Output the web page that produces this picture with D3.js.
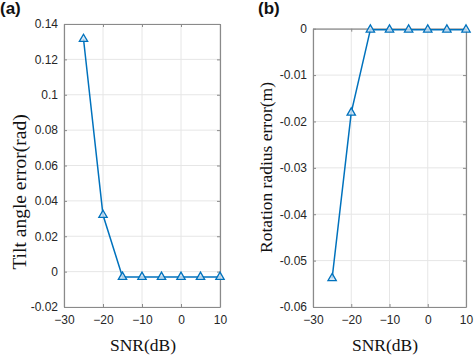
<!DOCTYPE html>
<html><head><meta charset="utf-8">
<script src="https://cdn.jsdelivr.net/npm/d3@7"></script>
<style>body{margin:0;background:#fff}svg{display:block}</style>
</head><body>
<svg id="c" width="474" height="356"></svg>
<script>
const snr = [-25, -20, -15, -10, -5, 0, 5, 10];
const tiltError = [0.1315, 0.032, -0.003, -0.003, -0.003, -0.003, -0.003, -0.003];
const radiusError = [-0.0538, -0.0181, -0.0002, -0.0002, -0.0002, -0.0002, -0.0002, -0.0002];
const xTicks = [-30, -20, -10, 0, 10];
const tiltTicks = [-0.02, 0, 0.02, 0.04, 0.06, 0.08, 0.1, 0.12, 0.14];
const radiusTicks = [-0.06, -0.05, -0.04, -0.03, -0.02, -0.01, 0];
const panelLabels = ["(a)", "(b)"];
const yLabels = ["Tilt angle error(rad)", "Rotation radius error(m)"];
const xLabel = "SNR(dB)";

const svg = d3.select("#c");
const fmt = d => String(+d.toFixed(3));

function panel(o) {
  const x = d3.scaleLinear().domain([-30, 10]).range([o.x0, o.x1]);
  const y = d3.scaleLinear().domain(o.yDomain).range([o.y1, o.y0]);
  const g = svg.append("g");
  // grid
  g.selectAll(".gx").data(xTicks).join("line")
    .attr("x1", d => x(d)).attr("x2", d => x(d)).attr("y1", o.y0).attr("y2", o.y1)
    .attr("stroke", "#e6e6e6").attr("stroke-width", 1);
  g.selectAll(".gy").data(o.yTicks).join("line")
    .attr("y1", d => y(d)).attr("y2", d => y(d)).attr("x1", o.x0).attr("x2", o.x1)
    .attr("stroke", "#e6e6e6").attr("stroke-width", 1);
  // axes
  const axL = g.append("g").attr("transform", `translate(${o.x0},0)`)
    .call(d3.axisLeft(y).tickValues(o.yTicks).tickFormat(fmt).tickSizeInner(-3).tickSizeOuter(0).tickPadding(6));
  const axR = g.append("g").attr("transform", `translate(${o.x1},0)`)
    .call(d3.axisRight(y).tickValues(o.yTicks).tickFormat("").tickSizeInner(-3).tickSizeOuter(0));
  const axB = g.append("g").attr("transform", `translate(0,${o.y1})`)
    .call(d3.axisBottom(x).tickValues(xTicks).tickFormat(d3.format("d")).tickSizeInner(-3).tickSizeOuter(0).tickPadding(8));
  const axT = g.append("g").attr("transform", `translate(0,${o.y0})`)
    .call(d3.axisTop(x).tickValues(xTicks).tickFormat("").tickSizeInner(-3).tickSizeOuter(0));
  [axL, axR, axB, axT].forEach(a => {
    a.select(".domain").attr("stroke", "#8a8a8a").attr("stroke-width", 1.2);
    a.selectAll(".tick line").attr("stroke", "#8a8a8a");
    a.selectAll("text").attr("font-family", "Liberation Sans, Arial, sans-serif")
      .attr("font-size", 12).attr("fill", "#262626");
  });
  // line
  const data = snr.map((s, i) => [s, o.values[i]]);
  g.append("path").datum(data)
    .attr("d", d3.line().x(d => x(d[0])).y(d => y(d[1])))
    .attr("fill", "none").attr("stroke", "#0072BD").attr("stroke-width", 1.5);
  g.selectAll(".m").data(data).join("path")
    .attr("transform", d => `translate(${x(d[0])},${y(d[1])})`)
    .attr("d", d3.symbol(d3.symbolTriangle, 30))
    .attr("fill", "#cfe2f3").attr("fill-opacity", 0.8)
    .attr("stroke", "#0072BD").attr("stroke-width", 1.3);
  // labels
  g.append("text").attr("x", o.px).attr("y", 14)
    .attr("font-family", "Liberation Sans, Arial, sans-serif").attr("font-weight", "bold")
    .attr("font-size", 17).attr("fill", "#111").text(o.panel);
  g.append("text").attr("x", o.xlx).attr("y", 351).attr("text-anchor", "middle")
    .attr("font-family", "Liberation Serif, Times New Roman, serif").attr("font-size", 17.5)
    .attr("fill", "#111").text(xLabel);
  g.append("text").attr("transform", `translate(${o.ylx},${o.yly}) rotate(-90)`)
    .attr("text-anchor", "middle")
    .attr("font-family", "Liberation Serif, Times New Roman, serif").attr("font-size", o.ylSize)
    .attr("fill", "#111").text(o.ylabel);
}

panel({x0: 64, x1: 220, y0: 24, y1: 307, yDomain: [-0.02, 0.14], yTicks: tiltTicks,
  values: tiltError, panel: panelLabels[0], px: 0, xlx: 143, ylx: 26, yly: 192,
  ylSize: 19.5, ylabel: yLabels[0]});
panel({x0: 313, x1: 466, y0: 28.7, y1: 307, yDomain: [-0.06, 0], yTicks: radiusTicks,
  values: radiusError, panel: panelLabels[1], px: 258, xlx: 385, ylx: 272, yly: 167.5,
  ylSize: 17.5, ylabel: yLabels[1]});
</script>
</body></html>
